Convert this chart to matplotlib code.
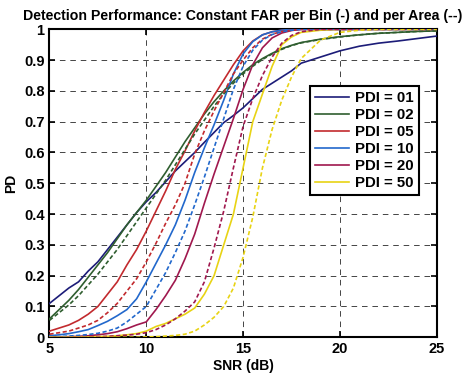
import matplotlib
matplotlib.use("Agg")
from matplotlib import pyplot as plt

# SNR axis (dB), shared by every curve
snr = [5, 5.5, 6, 6.5, 7, 7.5, 8, 8.5, 9, 9.5, 10, 10.5, 11, 11.5, 12, 12.5, 13, 13.5,
       14, 14.5, 15, 15.5, 16, 16.5, 17, 17.5, 18, 19, 20, 21, 22, 23, 24, 25]

# constant FAR per bin (solid)
pd01_bin = [0.11, 0.135, 0.16, 0.18, 0.215, 0.245, 0.285, 0.325, 0.365, 0.405, 0.44, 0.47, 0.505,
            0.54, 0.57, 0.60, 0.633, 0.665, 0.697, 0.72, 0.745, 0.775, 0.805, 0.825, 0.845, 0.865,
            0.89, 0.91, 0.93, 0.945, 0.955, 0.962, 0.97, 0.978]
pd02_bin = [0.06, 0.09, 0.12, 0.155, 0.195, 0.235, 0.275, 0.32, 0.365, 0.405, 0.445, 0.49, 0.535,
            0.585, 0.635, 0.68, 0.725, 0.765, 0.80, 0.832, 0.86, 0.885, 0.905, 0.922, 0.937, 0.948,
            0.957, 0.968, 0.976, 0.982, 0.987, 0.99, 0.993, 0.995]
pd05_bin = [0.02, 0.03, 0.04, 0.055, 0.075, 0.10, 0.14, 0.18, 0.235, 0.285, 0.345, 0.41, 0.475,
            0.545, 0.605, 0.67, 0.73, 0.785, 0.835, 0.885, 0.93, 0.962, 0.982, 0.992, 0.997, 1.0,
            1.0, 1.0, 1.0, 1.0, 1.0, 1.0, 1.0, 1.0]
pd10_bin = [0.005, 0.008, 0.012, 0.018, 0.025, 0.038, 0.052, 0.07, 0.09, 0.125, 0.18, 0.24, 0.30,
            0.365, 0.445, 0.535, 0.615, 0.69, 0.77, 0.855, 0.92, 0.96, 0.982, 0.992, 0.997, 1.0,
            1.0, 1.0, 1.0, 1.0, 1.0, 1.0, 1.0, 1.0]
pd20_bin = [0.0, 0.001, 0.002, 0.003, 0.005, 0.008, 0.012, 0.018, 0.028, 0.04, 0.05, 0.09, 0.135,
            0.185, 0.255, 0.335, 0.435, 0.53, 0.62, 0.71, 0.805, 0.885, 0.94, 0.972, 0.988, 0.996,
            1.0, 1.0, 1.0, 1.0, 1.0, 1.0, 1.0, 1.0]
pd50_bin = [0.0, 0.0, 0.0, 0.0, 0.001, 0.002, 0.003, 0.005, 0.008, 0.012, 0.02, 0.035, 0.045,
            0.06, 0.075, 0.095, 0.14, 0.20, 0.30, 0.40, 0.55, 0.70, 0.79, 0.88, 0.95, 0.975,
            0.99, 0.997, 1.0, 1.0, 1.0, 1.0, 1.0, 1.0]

# constant FAR per area (dashed)
pd02_area = [0.055, 0.08, 0.105, 0.135, 0.17, 0.205, 0.245, 0.285, 0.33, 0.375, 0.42, 0.465, 0.51,
             0.56, 0.61, 0.66, 0.705, 0.75, 0.79, 0.825, 0.855, 0.88, 0.902, 0.92, 0.935, 0.947,
             0.956, 0.967, 0.975, 0.982, 0.987, 0.99, 0.993, 0.995]
pd05_area = [0.01, 0.015, 0.02, 0.03, 0.04, 0.055, 0.08, 0.11, 0.15, 0.19, 0.245, 0.305, 0.37,
             0.43, 0.50, 0.595, 0.67, 0.735, 0.795, 0.855, 0.9, 0.94, 0.968, 0.984, 0.993, 0.997,
             1.0, 1.0, 1.0, 1.0, 1.0, 1.0, 1.0, 1.0]
pd10_area = [0.0, 0.002, 0.004, 0.006, 0.009, 0.013, 0.02, 0.03, 0.05, 0.075, 0.10, 0.155, 0.21,
             0.275, 0.345, 0.43, 0.52, 0.615, 0.71, 0.805, 0.88, 0.932, 0.965, 0.983, 0.992, 0.997,
             1.0, 1.0, 1.0, 1.0, 1.0, 1.0, 1.0, 1.0]
pd20_area = [0.0, 0.0, 0.0, 0.001, 0.001, 0.002, 0.003, 0.005, 0.007, 0.01, 0.015, 0.025, 0.04,
             0.06, 0.085, 0.115, 0.18, 0.29, 0.41, 0.55, 0.685, 0.775, 0.85, 0.91, 0.955, 0.98,
             0.992, 1.0, 1.0, 1.0, 1.0, 1.0, 1.0, 1.0]
pd50_area = [0.0, 0.0, 0.0, 0.0, 0.0, 0.0, 0.0, 0.0, 0.0, 0.0, 0.001, 0.002, 0.004,
             0.006, 0.01, 0.02, 0.04, 0.065, 0.10, 0.16, 0.26, 0.39, 0.55, 0.675, 0.77, 0.845,
             0.905, 0.965, 0.99, 0.997, 1.0, 1.0, 1.0, 1.0]

labels = ["PDI = 01", "PDI = 02", "PDI = 05", "PDI = 10", "PDI = 20", "PDI = 50"]
colors = ["#1c1c78", "#2f5e2f", "#c22a2e", "#2268cc", "#a0184e", "#e8d314"]

plt.rcParams['font.family'] = ['Liberation Sans', 'DejaVu Sans']
plt.rcParams['font.weight'] = 'bold'
plt.rcParams['lines.scale_dashes'] = False

fig = plt.figure(figsize=(4.74, 3.78), dpi=100)
ax = fig.add_axes([0.1044, 0.1077, 0.8169, 0.8148])

bin_curves = [pd01_bin, pd02_bin, pd05_bin, pd10_bin, pd20_bin, pd50_bin]
area_curves = [None, pd02_area, pd05_area, pd10_area, pd20_area, pd50_area]

for i in range(len(labels)):
    ax.plot(snr, bin_curves[i], color=colors[i], lw=1.2, label=labels[i], zorder=3)
for i in range(len(labels)):
    if area_curves[i] is not None:
        ax.plot(snr, area_curves[i], color=colors[i], lw=1.2, linestyle=(0, (3, 1.8)), zorder=3)

ax.set_xlim(5, 25)
ax.set_ylim(0, 1)
ax.set_xticks([5, 10, 15, 20, 25])
ax.set_yticks([0, 0.1, 0.2, 0.3, 0.4, 0.5, 0.6, 0.7, 0.8, 0.9, 1])
ax.set_yticklabels(["0", "0.1", "0.2", "0.3", "0.4", "0.5", "0.6", "0.7", "0.8", "0.9", "1"])
ax.tick_params(direction='in', top=True, right=True, labelsize=10.5, length=4, width=1.2)
ax.grid(True, color='#444444', linestyle=(0, (4, 3.5)), linewidth=0.7)
for s in ax.spines.values():
    s.set_linewidth(1.5)

ax.set_xlabel('SNR (dB)', fontsize=10, fontweight='bold', labelpad=2)
ax.set_ylabel('PD', fontsize=10, fontweight='bold', labelpad=4)
ax.set_title('Detection Performance: Constant FAR per Bin (-) and per Area (--)',
             fontsize=10.2, fontweight='bold', pad=7)

leg = ax.legend(loc='upper right', bbox_to_anchor=(0.955, 0.816), fontsize=10.8,
                fancybox=False, framealpha=1, edgecolor='black', handlelength=2.3,
                labelspacing=0.2, borderpad=0.35, handletextpad=0.4, borderaxespad=0)
leg.get_frame().set_linewidth(1.5)

fig.savefig('out.png', dpi=100)
